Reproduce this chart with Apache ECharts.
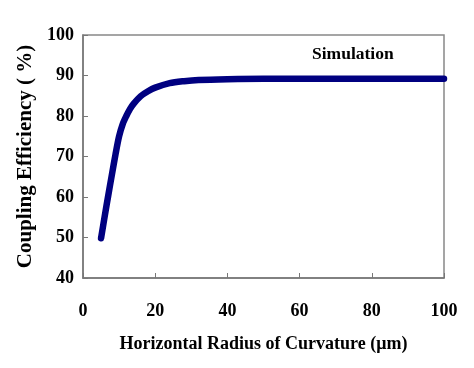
<!DOCTYPE html>
<html><head><meta charset="utf-8">
<script src="https://cdn.jsdelivr.net/npm/echarts@6/dist/echarts.min.js"></script>
<style>html,body{margin:0;padding:0;background:#fff}#c{width:474px;height:368px}</style>
</head><body><div id="c"></div>
<script>
const radius = [5,6,7,8,9,10,11,12,13,14,16,18,20,24,28,32,40,50,60,80,100];
const efficiency = [49.8,55.2,60.4,65.5,70.5,75,78,80,81.7,83,84.9,86.1,87,88.1,88.6,88.9,89.1,89.2,89.2,89.2,89.2];
const xTitle = 'Horizontal Radius of Curvature (\u03bcm)';
const yTitle = 'Coupling Efficiency ( %)';
const seriesName = 'Simulation';
const font = '"Liberation Serif","Times New Roman",serif';
const chart = echarts.init(document.getElementById('c'));
chart.setOption({
  animation:false,
  grid:{left:83,top:35,right:30,bottom:90,show:true,borderColor:'#888',borderWidth:1.5,backgroundColor:'transparent'},
  xAxis:{type:'value',min:0,max:100,interval:20,
    axisLine:{lineStyle:{color:'#777',width:1.5}},
    axisTick:{inside:true,length:5,lineStyle:{color:'#777'}},
    splitLine:{show:false},
    axisLabel:{margin:24,fontFamily:font,fontWeight:'bold',fontSize:18,color:'#000'},
    name:xTitle,nameLocation:'middle',nameGap:57,
    nameTextStyle:{fontFamily:font,fontWeight:'bold',fontSize:18,color:'#000'}},
  yAxis:{type:'value',min:40,max:100,interval:10,
    axisLine:{show:true,lineStyle:{color:'#777',width:1.5}},
    axisTick:{show:true,inside:true,length:5,lineStyle:{color:'#777'}},
    splitLine:{show:false},
    axisLabel:{margin:9,fontFamily:font,fontWeight:'bold',fontSize:18,color:'#000'},
    name:yTitle,nameLocation:'middle',nameGap:41,
    nameTextStyle:{fontFamily:font,fontWeight:'bold',fontSize:21,color:'#000'}},
  graphic:[{type:'text',left:312,top:45,style:{text:seriesName,font:'bold 17.5px '+font,fill:'#000'}}],
  series:[{type:'line',name:seriesName,data:radius.map((x,i)=>[x,efficiency[i]]),
    smooth:0.3,showSymbol:false,
    lineStyle:{color:'#000080',width:6.5,cap:'round',join:'round'}}]
});
</script></body></html>
